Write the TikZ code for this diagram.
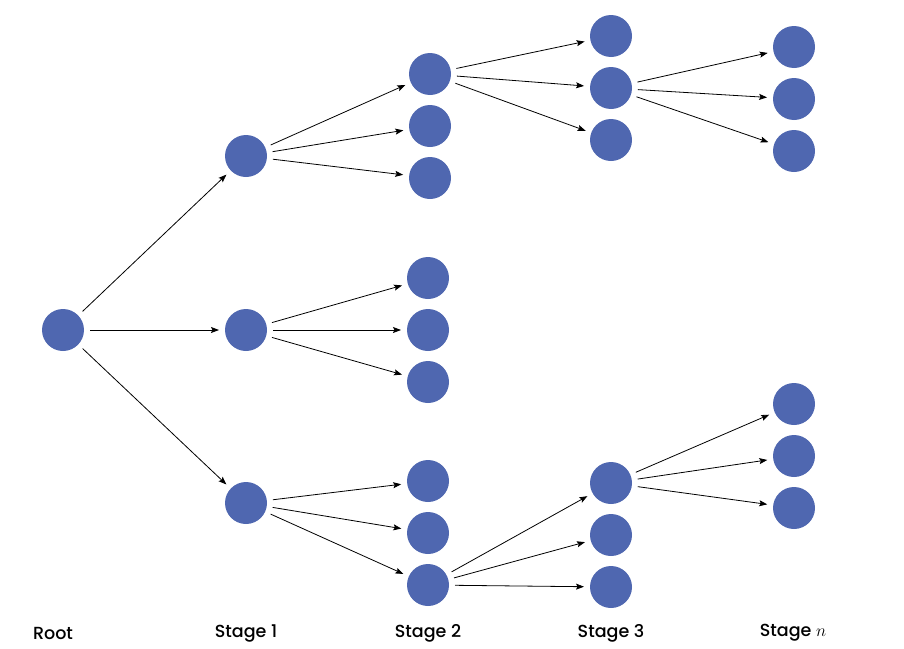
\documentclass[tikz,border=0pt]{standalone}
\usepackage{amsmath}
\usepackage{fontspec}
\setmainfont{Poppins}[UprightFont=* Medium]
\usetikzlibrary{arrows.meta}

\begin{document}
\begin{tikzpicture}
  [x=1pt,y=-1pt,auto=left,
   every node/.style={circle,fill={rgb,255:red,79;green,103;blue,176},minimum size=42pt,inner sep=0pt,outer sep=6pt},
   stage/.style={rectangle,fill=none,minimum size=0pt,outer sep=0pt,font=\fontsize{17.5}{20}\selectfont}]
  \useasboundingbox (0,0) rectangle (904,648);
  \node (1) at (63,330) {};
  \node (2) at (246,156) {};
  \node (3) at (246,330) {};
  \node (4) at (246,503) {};
  \node (5) at (430,74) {};
  \node (6) at (430,126) {};
  \node (7) at (430,178) {};
  \node (8) at (428,278) {};
  \node (9) at (428,330) {};
  \node (10) at (428,382) {};
  \node (11) at (428,481) {};
  \node (12) at (428,533) {};
  \node (13) at (428,585) {};
  \node (14) at (611,36) {};
  \node (15) at (611,88) {};
  \node (16) at (611,140) {};
  \node (17) at (611,483) {};
  \node (18) at (611,535) {};
  \node (19) at (611,587) {};
  \node (20) at (794,47) {};
  \node (21) at (794,99) {};
  \node (22) at (794,151) {};
  \node (23) at (794,404) {};
  \node (24) at (794,456) {};
  \node (25) at (794,508) {};

  \node[stage] (root) at (53,633) {Root};
  \node[stage] (s1) at (246,633) {Stage 1};
  \node[stage] (s2) at (428,633) {Stage 2};
  \node[stage] (s3) at (611,633) {Stage 3};
  \node[stage] (sn) at (793,633) {Stage $n$};

  \foreach \from/\to in {1/2,1/3,1/4,2/5,2/6,2/7,3/8,3/9,3/10,4/11,4/12,4/13,5/14,5/15,5/16,15/20,15/21,15/22,13/17,13/18,13/19,17/23,17/24,17/25}
    \draw[line width=0.8pt,-{Stealth[length=8pt,width=6pt,inset=1.5pt]}] (\from) -- (\to);

\end{tikzpicture}
\end{document}
